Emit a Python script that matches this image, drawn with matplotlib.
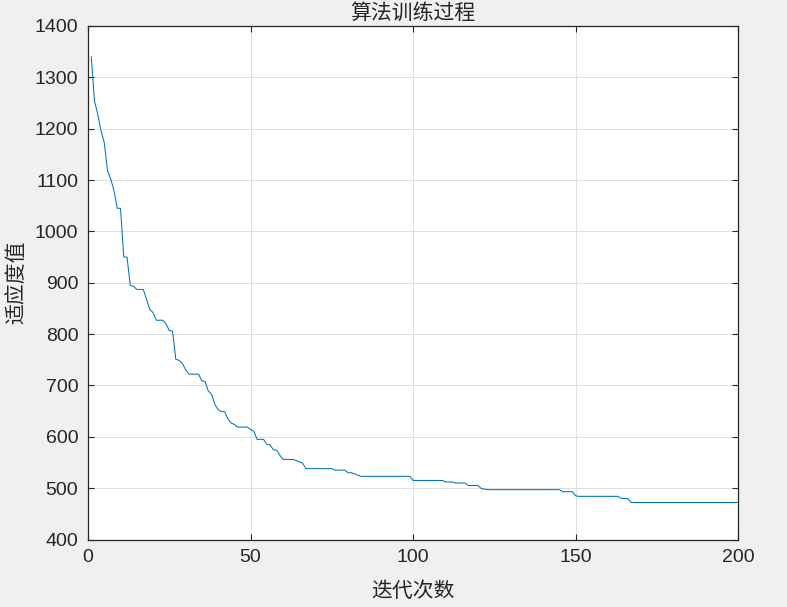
import matplotlib
matplotlib.use("Agg")
import matplotlib.pyplot as plt
import numpy as np

iterations = list(range(1, 201))
fitness = [
    1340, 1254, 1228, 1196, 1173, 1118, 1102, 1079, 1045, 1045,
    950, 950, 895, 893, 887, 887, 887, 868, 848, 842,
    827, 827, 827, 820, 807, 806, 751, 749, 743, 731,
    722, 722, 722, 722, 709, 708, 689, 683, 663, 653,
    649, 649, 635, 627, 624, 619, 619, 619, 619, 614,
    611, 595, 595, 595, 585, 584, 575, 574, 564, 556,
    556, 556, 556, 554, 551, 549, 538, 538, 538, 538,
    538, 538, 538, 538, 538, 535, 535, 535, 535, 530,
    530, 528, 525, 523, 523, 523, 523, 523, 523, 523,
    523, 523, 523, 523, 523, 523, 523, 523, 523, 515,
    515, 515, 515, 515, 515, 515, 515, 515, 515, 512,
    512, 512, 510, 510, 510, 510, 505, 505, 505, 505,
    499, 498, 497, 497, 497, 497, 497, 497, 497, 497,
    497, 497, 497, 497, 497, 497, 497, 497, 497, 497,
    497, 497, 497, 497, 497, 493, 493, 493, 493, 485,
    484, 484, 484, 484, 484, 484, 484, 484, 484, 484,
    484, 484, 484, 480, 480, 480, 472, 472, 472, 472,
    472, 472, 472, 472, 472, 472, 472, 472, 472, 472,
    472, 472, 472, 472, 472, 472, 472, 472, 472, 472,
    472, 472, 472, 472, 472, 472, 472, 472, 472, 472,
]
x_ticks = [0, 50, 100, 150, 200]
y_ticks = [400, 500, 600, 700, 800, 900, 1000, 1100, 1200, 1300, 1400]
title_text = "算法训练过程"
x_label = "迭代次数"
y_label = "适应度值"

cjk = ["Noto Sans CJK SC", "DejaVu Sans"]
num_font = ["Liberation Sans", "DejaVu Sans"]
text_color = "#262626"

fig = plt.figure(figsize=(7.87, 6.07), dpi=100, facecolor="#f0f0f0")
ax = fig.add_axes([88/787, (607-539.5)/607, (738.3-88)/787, (539.5-26)/607])
ax.set_facecolor("white")

ax.plot(iterations, fitness, color="#0072BD", linewidth=0.75)

ax.set_xlim(0, 200)
ax.set_ylim(400, 1400)
ax.set_xticks(x_ticks)
ax.set_yticks(y_ticks)
ax.grid(True, color="#dfdfdf", linewidth=0.7)
ax.set_axisbelow(True)

for s in ax.spines.values():
    s.set_color(text_color)
    s.set_linewidth(0.9)

ax.tick_params(direction="in", length=4, width=0.8, colors=text_color,
               labelsize=14, pad=7, top=True, right=True,
               labeltop=False, labelright=False)
for lab in ax.get_xticklabels() + ax.get_yticklabels():
    lab.set_family(num_font)
    lab.set_color(text_color)

ax.set_title(title_text, family=cjk, fontsize=15, color=text_color, pad=5)
ax.set_xlabel(x_label, family=cjk, fontsize=15, color=text_color, labelpad=10)
ax.set_ylabel(y_label, family=cjk, fontsize=15, color=text_color, labelpad=5)

fig.savefig("out.png", dpi=100, facecolor=fig.get_facecolor())
